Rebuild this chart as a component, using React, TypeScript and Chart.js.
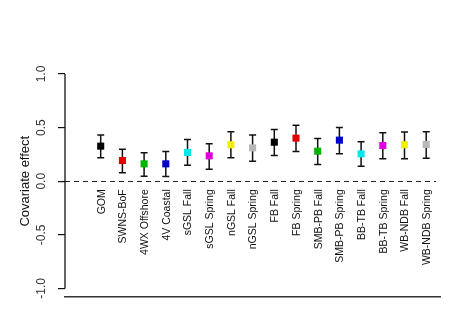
import React, { useEffect, useRef } from "react";
import { Chart, registerables } from "chart.js";

Chart.register(...registerables);

const categories = [
  "GOM", "SWNS-BoF", "4WX Offshore", "4V Coastal", "sGSL Fall", "sGSL Spring",
  "nGSL Fall", "nGSL Spring", "FB Fall", "FB Spring", "SMB-PB Fall", "SMB-PB Spring",
  "BB-TB Fall", "BB-TB Spring", "WB-NDB Fall", "WB-NDB Spring",
];
const estimates = [0.327, 0.193, 0.162, 0.162, 0.268, 0.237, 0.34, 0.311, 0.364, 0.402, 0.28, 0.383, 0.255, 0.333, 0.34, 0.343];
const upper = [0.43, 0.299, 0.265, 0.277, 0.39, 0.349, 0.461, 0.43, 0.483, 0.523, 0.399, 0.502, 0.367, 0.452, 0.458, 0.461];
const lower = [0.218, 0.078, 0.047, 0.044, 0.15, 0.112, 0.218, 0.187, 0.24, 0.277, 0.156, 0.255, 0.14, 0.209, 0.209, 0.215];
const palette = ["#000000", "#E00000", "#00B400", "#0000D0", "#00E8E8", "#E000E0", "#F0F000", "#B8B8B8"];
const yTicks = [-1, -0.5, 0, 0.5, 1];
const yTickLabels = ["-1.0", "-0.5", "0.0", "0.5", "1.0"];
const yTitle = "Covariate effect";

const FONT = "'Liberation Sans', Arial, sans-serif";

const overlay = {
  id: "overlay",
  beforeDatasetsDraw(chart: any) {
    const { ctx, chartArea } = chart;
    const xs = chart.scales.x;
    const ys = chart.scales.y;
    ctx.save();
    // zero dashed line
    ctx.strokeStyle = "#222";
    ctx.lineWidth = 1;
    ctx.setLineDash([5, 4]);
    const y0 = Math.round(ys.getPixelForValue(0)) + 0.5;
    ctx.beginPath();
    ctx.moveTo(chartArea.left, y0);
    ctx.lineTo(xs.getPixelForValue(15.45), y0);
    ctx.stroke();
    ctx.setLineDash([]);
    // y axis line from -1 to 1
    ctx.strokeStyle = "#111";
    ctx.lineWidth = 1.3;
    ctx.beginPath();
    ctx.moveTo(chartArea.left, ys.getPixelForValue(yTicks[0]));
    ctx.lineTo(chartArea.left, ys.getPixelForValue(yTicks[yTicks.length - 1]));
    ctx.stroke();
    // error bars
    ctx.strokeStyle = "#111";
    ctx.lineWidth = 1.5;
    for (let i = 0; i < categories.length; i++) {
      const px = xs.getPixelForValue(i);
      const pu = ys.getPixelForValue(upper[i]);
      const pl = ys.getPixelForValue(lower[i]);
      ctx.beginPath();
      ctx.moveTo(px, pu);
      ctx.lineTo(px, pl);
      ctx.moveTo(px - 3.5, pu);
      ctx.lineTo(px + 3.5, pu);
      ctx.moveTo(px - 3.5, pl);
      ctx.lineTo(px + 3.5, pl);
      ctx.stroke();
    }
    // y tick labels (rotated)
    ctx.fillStyle = "#333";
    ctx.font = `12px ${FONT}`;
    ctx.textAlign = "center";
    ctx.textBaseline = "middle";
    yTicks.forEach((v, k) => {
      ctx.save();
      ctx.translate(chartArea.left - 23, ys.getPixelForValue(v));
      ctx.rotate(-Math.PI / 2);
      ctx.fillText(yTickLabels[k], 0, 0);
      ctx.restore();
    });
    // y title
    ctx.fillStyle = "#111";
    ctx.font = `13px ${FONT}`;
    ctx.save();
    ctx.translate(chartArea.left - 40, ys.getPixelForValue(0));
    ctx.rotate(-Math.PI / 2);
    ctx.fillText(yTitle, 0, 0);
    ctx.restore();
    // category labels
    ctx.fillStyle = "#111";
    ctx.font = `10.5px ${FONT}`;
    ctx.textAlign = "right";
    ctx.textBaseline = "middle";
    const yl = ys.getPixelForValue(0) + 8;
    categories.forEach((c, i) => {
      ctx.save();
      ctx.translate(xs.getPixelForValue(i) + 1, yl);
      ctx.rotate(-Math.PI / 2);
      ctx.fillText(c, 0, 0);
      ctx.restore();
    });
    ctx.restore();
  },
};

export default function App() {
  const ref = useRef<HTMLCanvasElement | null>(null);
  useEffect(() => {
    if (!ref.current) return;
    const chart = new Chart(ref.current, {
      type: "scatter",
      data: {
        datasets: [
          {
            data: estimates.map((v, i) => ({ x: i, y: v })),
            pointStyle: "rect",
            pointRadius: 5,
            pointBorderWidth: 0,
            pointBackgroundColor: estimates.map((_, i) => palette[i % palette.length]),
            pointBorderColor: estimates.map((_, i) => palette[i % palette.length]),
          },
        ],
      },
      options: {
        animation: false,
        responsive: false,
        maintainAspectRatio: false,
        layout: { padding: { left: 58, right: 34, top: 74, bottom: 33 } },
        plugins: { legend: { display: false }, tooltip: { enabled: false } },
        scales: {
          x: {
            type: "linear",
            min: -1.645,
            max: 15.636,
            ticks: { display: false },
            grid: { display: false, drawTicks: false },
            border: { display: true, color: "#333", width: 1.5 },
          },
          y: {
            type: "linear",
            min: -1.08,
            max: 1.0,
            afterBuildTicks: (s: any) => {
              s.ticks = yTicks.map((v) => ({ value: v }));
            },
            ticks: { display: false },
            grid: { drawOnChartArea: false, drawTicks: true, tickLength: 7, color: "#111", lineWidth: 1.2 },
            border: { display: false },
          },
        },
      },
      plugins: [overlay],
    });
    return () => chart.destroy();
  }, []);
  return (
    <div style={{ position: "fixed", left: 0, top: 0, width: 474, height: 330, background: "#fff" }}>
      <canvas ref={ref} width={474} height={330} style={{ width: 474, height: 330 }} />
    </div>
  );
}
